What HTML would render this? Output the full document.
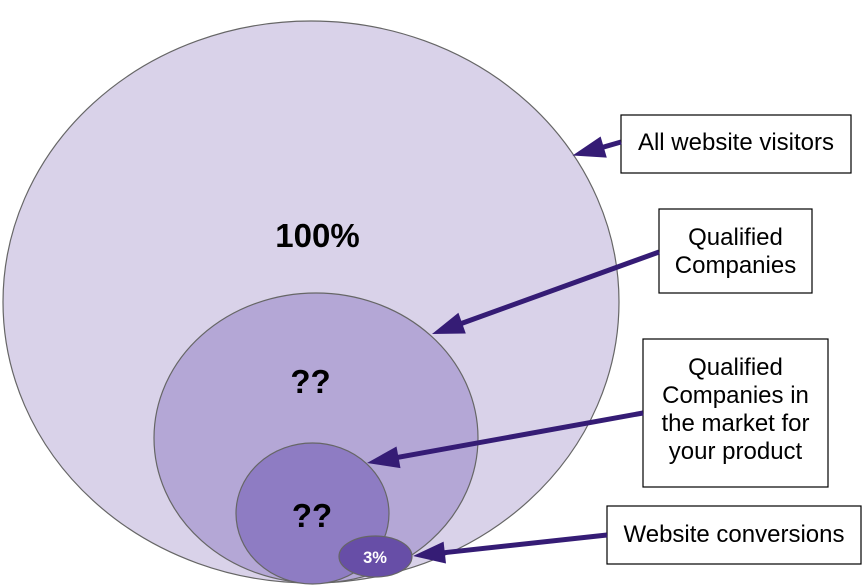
<!DOCTYPE html>
<html>
<head>
<meta charset="utf-8">
<style>
  html,body{margin:0;padding:0;background:#fff;}
  svg{display:block;}
  text{font-family:"Liberation Sans",Arial,sans-serif;}
</style>
</head>
<body>
<svg width="867" height="587" viewBox="0 0 867 587" xmlns="http://www.w3.org/2000/svg">
  <!-- ellipses -->
  <ellipse cx="311" cy="302" rx="308" ry="281" fill="#d9d2e9" stroke="#666" stroke-width="1.2"/>
  <ellipse cx="316" cy="438" rx="162" ry="145" fill="#b4a7d6" stroke="#666" stroke-width="1.2"/>
  <ellipse cx="312.5" cy="513.5" rx="76.5" ry="70.5" fill="#8e7cc3" stroke="#666" stroke-width="1.2"/>
  <ellipse cx="375.5" cy="556.5" rx="36.5" ry="20.5" fill="#674ea7" stroke="#666" stroke-width="1.2"/>

  <!-- ellipse labels -->
  <text x="317.5" y="247" font-size="33" font-weight="bold" text-anchor="middle" fill="#000">100%</text>
  <text x="310.5" y="393" font-size="33" font-weight="bold" text-anchor="middle" fill="#000">??</text>
  <text x="312" y="527" font-size="33" font-weight="bold" text-anchor="middle" fill="#000">??</text>
  <text x="375" y="563" font-size="16.5" font-weight="bold" text-anchor="middle" fill="#fff">3%</text>

  <!-- boxes -->
  <rect x="621" y="115" width="230" height="58" fill="#fff" stroke="#000" stroke-width="1.2"/>
  <rect x="659" y="209" width="153" height="84" fill="#fff" stroke="#000" stroke-width="1.2"/>
  <rect x="643" y="339" width="185" height="148" fill="#fff" stroke="#000" stroke-width="1.2"/>
  <rect x="607" y="506" width="254" height="58" fill="#fff" stroke="#000" stroke-width="1.2"/>

  <g font-size="24" text-anchor="middle" fill="#000">
    <text x="736" y="150">All website visitors</text>
    <text x="735.5" y="245">Qualified</text>
    <text x="735.5" y="273">Companies</text>
    <text x="735.5" y="375">Qualified</text>
    <text x="735.5" y="403">Companies in</text>
    <text x="735.5" y="431">the market for</text>
    <text x="735.5" y="459">your product</text>
    <text x="734" y="542">Website conversions</text>
  </g>

  <!-- arrows -->
  <g stroke="#351c75" stroke-width="5" fill="none">
    <line x1="621" y1="142" x2="602" y2="147.5"/>
    <line x1="659" y1="252" x2="460" y2="324"/>
    <line x1="643" y1="413" x2="396" y2="457.7"/>
    <line x1="607" y1="535" x2="443" y2="552.8"/>
  </g>
  <g fill="#351c75">
    <polygon points="572.5,155.5 600.6,136.5 606.8,157.6"/>
    <polygon points="432,334 458.4,312.8 465.8,333.5"/>
    <polygon points="367,463 396.5,446.5 400.5,468.1"/>
    <polygon points="413,556 443.6,541.6 446.0,563.5"/>
  </g>
</svg>
</body>
</html>
